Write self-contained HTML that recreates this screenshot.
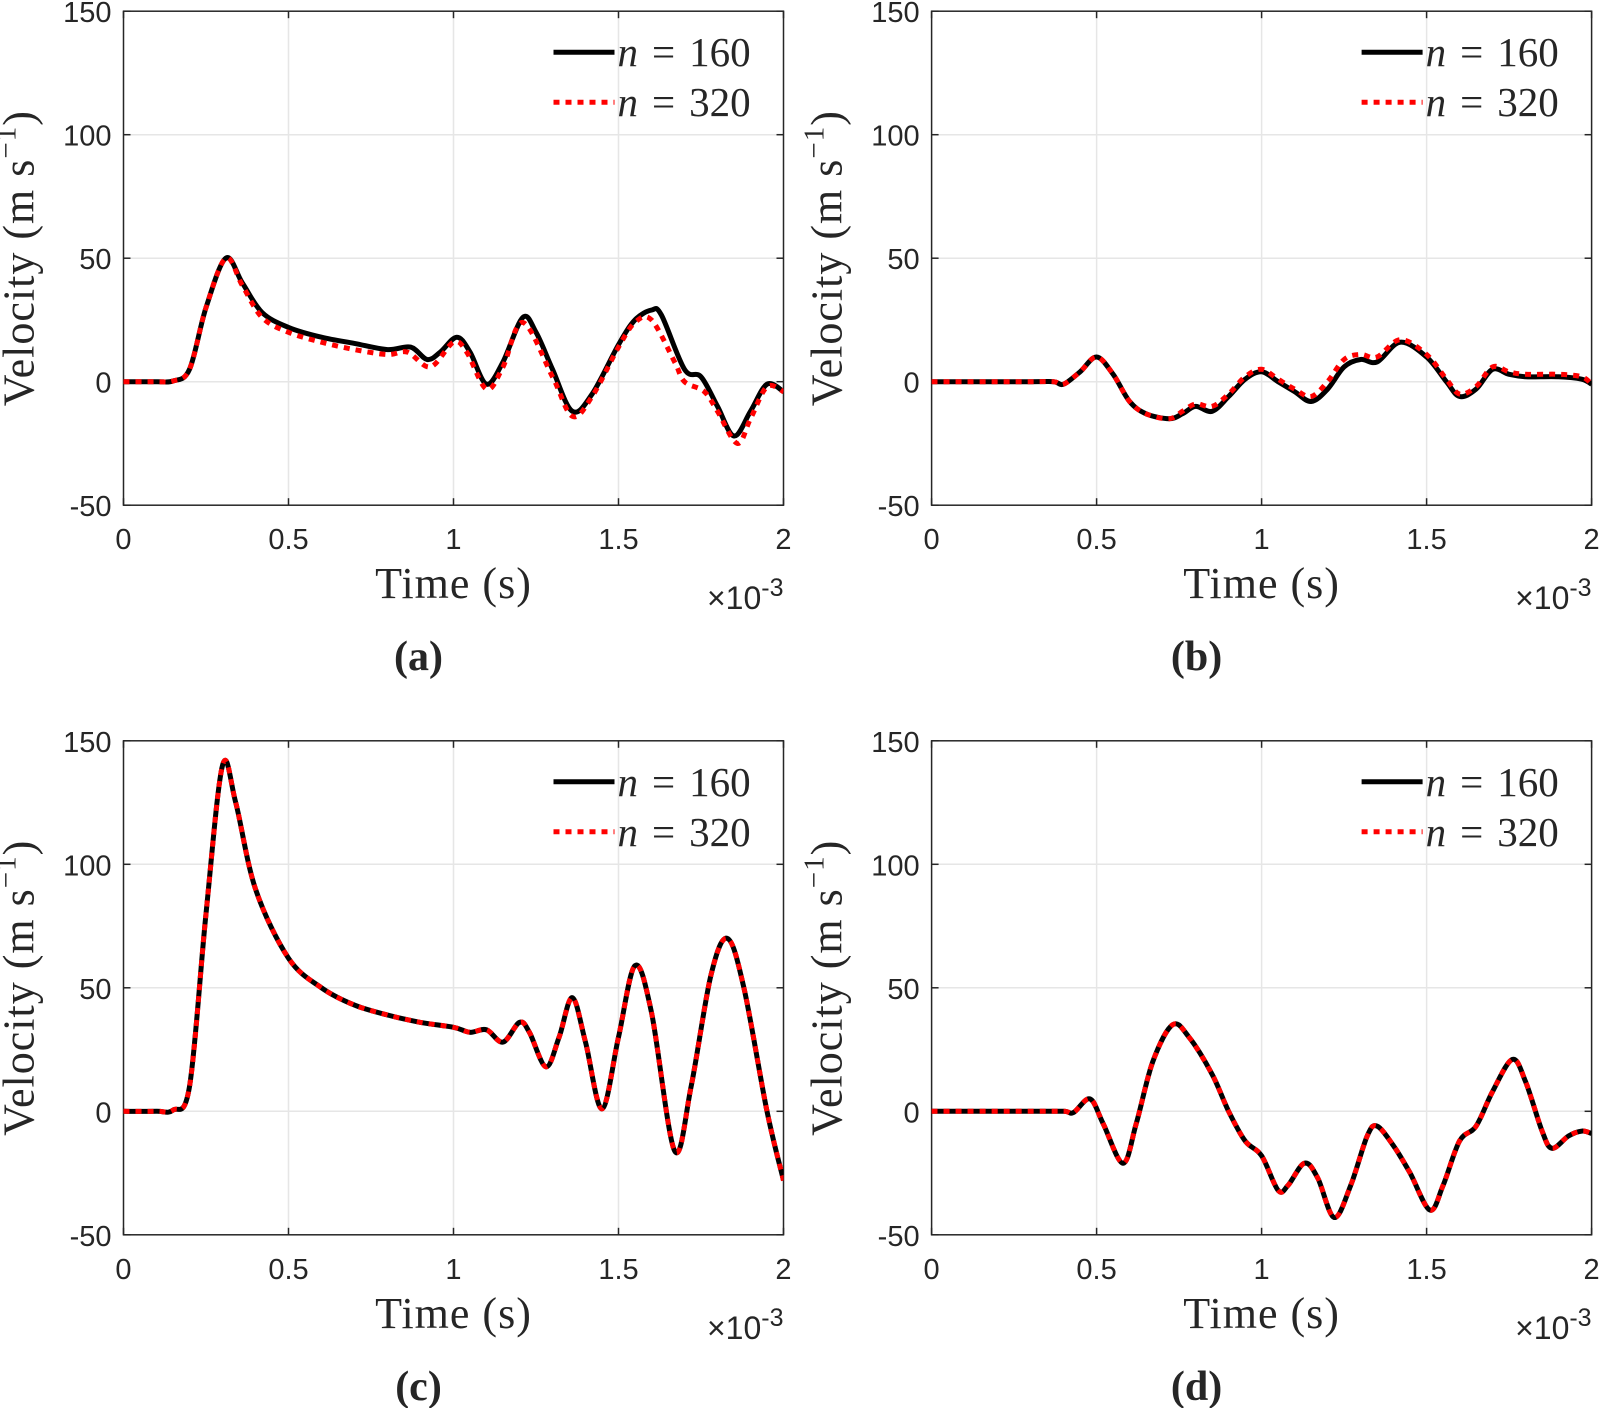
<!DOCTYPE html>
<html><head><meta charset="utf-8"><style>
html,body{margin:0;padding:0;background:#fff;}
svg{display:block}
.tk{font-family:"Liberation Sans",sans-serif;font-size:29px;fill:#262626}
.sr{font-family:"Liberation Serif",serif;fill:#262626}
</style></head><body>
<svg id="s" width="1600" height="1408" xmlns="http://www.w3.org/2000/svg"></svg>
<script>
const S=document.getElementById('s');let h='';
const panels=[
{x:123.5,y:11.2,lab:'(a)',
 k:[[0,0],[0.1,0],[0.15,0.3],[0.2,5],[0.25,30],[0.31,50],[0.36,40],[0.42,28],[0.5,22],[0.6,18],[0.7,15.5],[0.8,13],[0.87,14],[0.92,9],[0.96,12],[1.01,18],[1.05,12],[1.1,-1],[1.15,8],[1.21,26],[1.25,20],[1.3,5],[1.36,-12],[1.42,-5],[1.5,15],[1.55,25],[1.6,29],[1.63,27],[1.7,5],[1.75,2],[1.8,-10],[1.85,-22],[1.9,-12],[1.95,-1],[2,-4]],
 r:[[0,0],[0.1,0],[0.15,0.3],[0.2,5],[0.25,30],[0.31,50],[0.36,39],[0.42,26],[0.5,20],[0.6,16],[0.7,13],[0.8,11],[0.86,12],[0.93,6],[1.0,16],[1.04,12],[1.1,-3],[1.15,6],[1.21,24],[1.3,2],[1.36,-14],[1.42,-6],[1.5,14],[1.55,24],[1.6,25],[1.67,8],[1.7,0],[1.76,-4],[1.8,-12],[1.86,-25],[1.9,-15],[1.95,-2],[2,-4]]},
{x:931.6,y:11.2,lab:'(b)',
 k:[[0,0],[0.3,0],[0.37,0],[0.4,-1],[0.45,4],[0.5,10],[0.55,3],[0.6,-8],[0.65,-13],[0.72,-15],[0.76,-13],[0.8,-10],[0.85,-12],[0.9,-6],[0.95,1],[1.0,4],[1.05,0],[1.1,-4],[1.15,-8],[1.2,-3],[1.25,6],[1.3,9],[1.35,8],[1.42,16],[1.5,10],[1.56,0],[1.6,-6],[1.65,-3],[1.7,5],[1.75,3],[1.8,2],[1.9,2],[1.97,1],[2,-1]],
 r:[[0,0],[0.3,0],[0.37,0],[0.4,-1],[0.45,4],[0.5,10],[0.55,3],[0.6,-8],[0.65,-13],[0.72,-15],[0.76,-12],[0.8,-9],[0.85,-10],[0.9,-5],[0.95,2],[1.0,5],[1.05,1],[1.1,-3],[1.15,-6],[1.2,0],[1.25,9],[1.3,11],[1.35,10],[1.42,17],[1.5,11],[1.56,1],[1.6,-5],[1.65,-2],[1.7,6],[1.75,4],[1.8,3],[1.9,3],[1.97,2],[2,-1]]},
{x:123.5,y:740.8,lab:'(c)',
 k:[[0,0],[0.1,0],[0.15,0.5],[0.2,10],[0.25,80],[0.3,140],[0.34,125],[0.4,90],[0.5,62],[0.6,50],[0.7,43],[0.8,39],[0.9,36],[1.0,34],[1.05,32],[1.1,33],[1.15,28],[1.2,36],[1.23,32],[1.28,18],[1.32,30],[1.36,46],[1.4,28],[1.45,1],[1.5,30],[1.55,59],[1.6,40],[1.67,-16],[1.72,10],[1.78,55],[1.83,70],[1.88,50],[1.95,0],[2,-28]]},
{x:931.6,y:740.8,lab:'(d)',
 k:[[0,0],[0.3,0],[0.4,0],[0.43,-0.5],[0.48,5],[0.52,-5],[0.58,-21],[0.62,-5],[0.67,20],[0.73,35],[0.78,30],[0.85,15],[0.9,0],[0.95,-12],[1.0,-18],[1.05,-32],[1.08,-30],[1.13,-21],[1.17,-27],[1.22,-43],[1.27,-30],[1.32,-10],[1.35,-6],[1.4,-14],[1.45,-25],[1.51,-40],[1.55,-30],[1.6,-12],[1.65,-6],[1.7,8],[1.76,21],[1.8,12],[1.85,-8],[1.88,-15],[1.93,-10],[1.97,-8],[2,-9]]}
];
const W=660,H=494;
function path(p,pts){
 const P=pts.map(q=>[p.x+q[0]/2*W,p.y+(150-q[1])/200*H]);
 let d='M'+P[0][0].toFixed(1)+' '+P[0][1].toFixed(1);
 for(let i=0;i<P.length-1;i++){
  const a=P[i-1]||P[i],b=P[i],c=P[i+1],e=P[i+2]||c;
  const c1=[b[0]+(c[0]-a[0])/6,b[1]+(c[1]-a[1])/6],c2=[c[0]-(e[0]-b[0])/6,c[1]-(e[1]-b[1])/6];
  d+=`C${c1[0].toFixed(1)} ${c1[1].toFixed(1)} ${c2[0].toFixed(1)} ${c2[1].toFixed(1)} ${c[0].toFixed(1)} ${c[1].toFixed(1)}`;
 }
 return d;
}
for(const p of panels){
 h+=`<defs><clipPath id="c${p.lab[1]}"><rect x="${p.x}" y="${p.y-3}" width="${W}" height="${H+6}"/></clipPath></defs>`;
 for(let i=1;i<4;i++){const x=p.x+i*W/4;h+=`<line x1="${x}" y1="${p.y}" x2="${x}" y2="${p.y+H}" stroke="#e6e6e6" stroke-width="1.5"/>`;}
 for(let i=1;i<4;i++){const y=p.y+i*H/4;h+=`<line x1="${p.x}" y1="${y}" x2="${p.x+W}" y2="${y}" stroke="#e6e6e6" stroke-width="1.5"/>`;}
 h+=`<rect x="${p.x}" y="${p.y}" width="${W}" height="${H}" fill="none" stroke="#262626" stroke-width="1.5"/>`;
 const xt=['0','0.5','1','1.5','2'];
 for(let i=0;i<5;i++){const x=p.x+i*W/4;
  h+=`<line x1="${x}" y1="${p.y+H}" x2="${x}" y2="${p.y+H-7}" stroke="#262626" stroke-width="1.5"/><line x1="${x}" y1="${p.y}" x2="${x}" y2="${p.y+7}" stroke="#262626" stroke-width="1.5"/>`;
  h+=`<text class="tk" x="${x}" y="${p.y+H+44}" text-anchor="middle">${xt[i]}</text>`;}
 const yt=['150','100','50','0','-50'];
 for(let i=0;i<5;i++){const y=p.y+i*H/4;
  h+=`<line x1="${p.x}" y1="${y}" x2="${p.x+7}" y2="${y}" stroke="#262626" stroke-width="1.5"/><line x1="${p.x+W}" y1="${y}" x2="${p.x+W-7}" y2="${y}" stroke="#262626" stroke-width="1.5"/>`;
  h+=`<text class="tk" x="${p.x-12}" y="${y+11}" text-anchor="end">${yt[i]}</text>`;}
 h+=`<text class="sr" font-size="44" x="${p.x+W/2}" y="${p.y+H+93}" text-anchor="middle" letter-spacing="1">Time (s)</text>`;
 h+=`<text class="tk" x="${p.x+W}" y="${p.y+H+104}" text-anchor="end" style="font-size:32px">×10<tspan style="font-size:25px" dy="-13">-3</tspan></text>`;
 h+=`<text class="sr" font-size="44" transform="translate(${p.x-90},${p.y+H/2}) rotate(-90)" text-anchor="middle" letter-spacing="1">Velocity (m  s<tspan font-size="29" dy="-18">−1</tspan><tspan dy="18">)</tspan></text>`;
 h+=`<text class="sr" font-size="42" font-weight="bold" x="${p.x+(p.x<500?295:265)}" y="${p.y+H+165}" text-anchor="middle">${p.lab}</text>`;
 h+=`<g clip-path="url(#c${p.lab[1]})"><path d="${path(p,p.k)}" fill="none" stroke="#000" stroke-width="5" stroke-linejoin="round"/>`;
 h+=`<path d="${path(p,p.r||p.k)}" fill="none" stroke="#f00" stroke-width="5" stroke-dasharray="6 6"/></g>`;
 const lx=p.x+430,ly=p.y+41;
 h+=`<line x1="${lx}" y1="${ly}" x2="${lx+61}" y2="${ly}" stroke="#000" stroke-width="5"/>`;
 h+=`<line x1="${lx}" y1="${ly+50}" x2="${lx+61}" y2="${ly+50}" stroke="#f00" stroke-width="5" stroke-dasharray="6 6"/>`;
 h+=`<text class="sr" font-size="41" x="${lx+64}" y="${ly+14}"><tspan font-style="italic">n</tspan><tspan dx="14">=</tspan><tspan dx="14">160</tspan></text>`;
 h+=`<text class="sr" font-size="41" x="${lx+64}" y="${ly+64}"><tspan font-style="italic">n</tspan><tspan dx="14">=</tspan><tspan dx="14">320</tspan></text>`;
}
S.innerHTML=h;
</script>
</body></html>
